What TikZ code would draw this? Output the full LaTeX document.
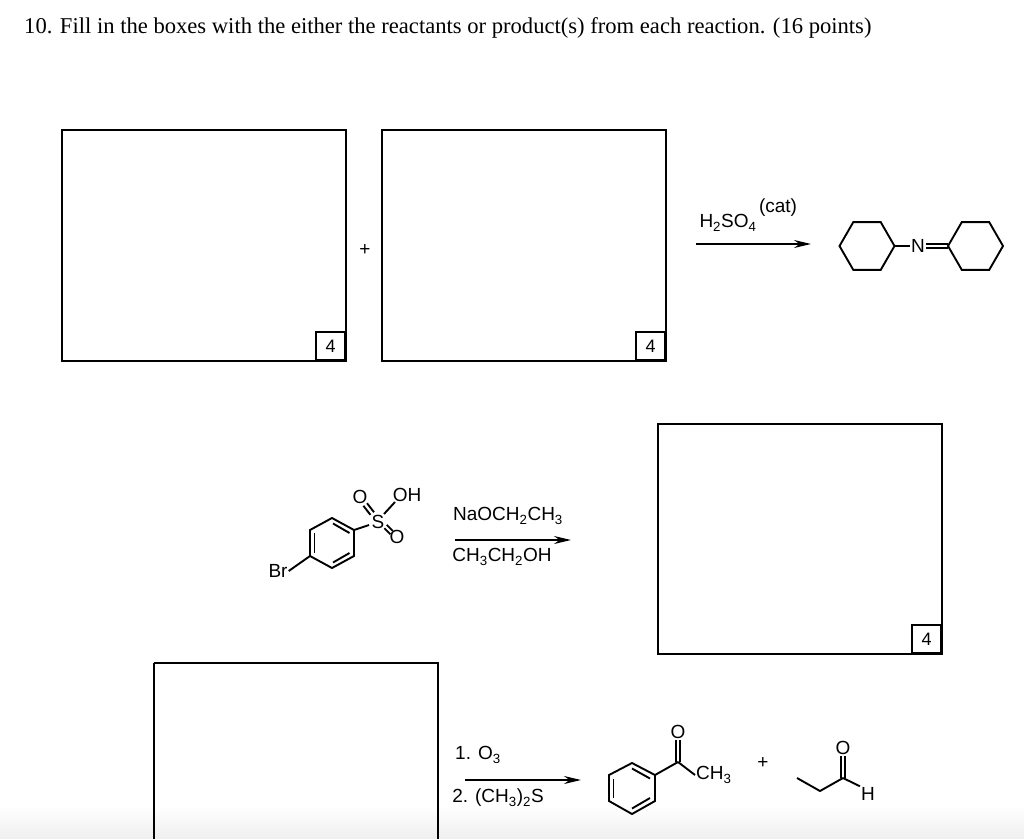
\documentclass[tikz,border=0pt]{standalone}
\usepackage{fontspec}
\setmainfont{Liberation Serif}
\newfontfamily\arial{Liberation Sans}
\usetikzlibrary{arrows.meta}
\newcommand{\lsub}[1]{\textsubscript{#1}}
\begin{document}
\begin{tikzpicture}[x=1pt,y=-1pt,
  answerbox/.style={draw,line width=2pt},
  numbox/.style={draw,line width=1.6pt,minimum width=29pt,minimum height=28pt,inner sep=0pt,font=\arial\fontsize{18}{18}\selectfont},
  lbl/.style={font=\arial\fontsize{19}{19}\selectfont,inner sep=1pt},
  bnd/.style={line width=1.9pt},
  rxn/.style={line width=1.6pt,-{Stealth[length=17pt,width=8pt]}}]
\useasboundingbox (0,0) rectangle (1024,838);
\shade[top color=white,bottom color=black!6] (0,805) rectangle (1024,838);
\node[anchor=west,font=\fontsize{22.6}{23}\selectfont,inner sep=0pt] (title) at (24,28) {10. Fill in the boxes with the either the reactants or product(s) from each reaction. (16 points)};
% boxes
\draw[answerbox] (62,130) rectangle (346,361);
\node[numbox,anchor=south east] (n1) at (346,361) {4};
\draw[answerbox] (382,130) rectangle (666,361);
\node[numbox,anchor=south east] (n2) at (666,361) {4};
\node[lbl] (plus1) at (365,250) {+};
\draw[answerbox] (658,424) rectangle (942,654);
\node[numbox,anchor=south east] (n3) at (942,654) {4};
\draw[answerbox] (154,663) -- (154,840) (154,663) -- (438,663) -- (438,840);
% reaction 1
\node[lbl] (h2so4) at (728,223) {H\lsub{2}SO\lsub{4}};
\node[lbl] (cat) at (778,208) {(cat)};
\coordinate (a1s) at (696,244); \coordinate (a1e) at (811,244);
\draw[rxn] (a1s) -- (a1e);
\draw[bnd] (867,246) ++(0:27.5) -- ++(120:27.5) -- ++(180:27.5) -- ++(240:27.5) -- ++(300:27.5) -- ++(0:27.5) -- cycle;
\node[lbl] (N) at (918,246) {N};
\draw[bnd] (894.5,246) -- (N.west);
\draw[bnd] (975.5,246) ++(180:27.5) coordinate (rc) -- ++(60:27.5) -- ++(0:27.5) -- ++(300:27.5) -- ++(240:27.5) -- ++(180:27.5) -- cycle;
\draw[bnd] ([yshift=-2.4]N.east) -- ([yshift=-2.4]rc);
\draw[bnd] ([yshift=2.4]N.east) -- ([yshift=2.4]rc);
% reaction 2 : 4-bromobenzenesulfonic acid
\coordinate (r1) at (332,518); \coordinate (r2) at (354,530); \coordinate (r3) at (354,556);
\coordinate (r4) at (332,568); \coordinate (r5) at (310,556); \coordinate (r6) at (310,530);
\draw[bnd] (r1)--(r2)--(r3)--(r4)--(r5)--(r6)--cycle;
\draw[bnd] (333,523.5)--(349.5,533); \draw[bnd] (349.5,553)--(333,562.5); \draw[bnd] (314.5,553)--(314.5,533);
\node[lbl] (Br) at (278,571) {Br};
\draw[bnd] (r5) -- (Br.east);
\node[lbl] (S) at (378,522) {S};
\draw[bnd] (r2) -- (369,525);
\node[lbl] (O1) at (360,497) {O};
\node[lbl] (OH) at (407,495) {OH};
\node[lbl] (O2) at (397,537) {O};
\draw[bnd] (370.4,514.8) -- (363.4,505.8);
\draw[bnd] (374.0,512.2) -- (367.0,503.2);
\draw[bnd] (384,514) -- (395,502);
\draw[bnd] (386.7,524.8) -- (392.7,530.8);
\draw[bnd] (384.3,528.2) -- (390.3,534.2);
\node[lbl] (naoet) at (508,516) {NaOCH\lsub{2}CH\lsub{3}};
\node[lbl] (etoh) at (502,557) {CH\lsub{3}CH\lsub{2}OH};
\coordinate (a2s) at (455,540); \coordinate (a2e) at (571,540);
\draw[rxn] (a2s) -- (a2e);
% reaction 3
\node[lbl] (o3) at (478,755) {1. O\lsub{3}};
\node[lbl] (dms) at (498,798) {2. (CH\lsub{3})\lsub{2}S};
\coordinate (a3s) at (465,780); \coordinate (a3e) at (581,780);
\draw[rxn] (a3s) -- (a3e);
\coordinate (p1) at (632,763); \coordinate (p2) at (655,775); \coordinate (p3) at (655,801);
\coordinate (p4) at (632,814); \coordinate (p5) at (609,801); \coordinate (p6) at (609,775);
\draw[bnd] (p1)--(p2)--(p3)--(p4)--(p5)--(p6)--cycle;
\draw[bnd] (632,768.5)--(650,778.5); \draw[bnd] (650,798)--(632,808.5); \draw[bnd] (613.5,797.5)--(613.5,778.5);
\coordinate (cc) at (678,762);
\draw[bnd] (p2) -- (cc);
\node[lbl] (Ok) at (678,732) {O};
\draw[bnd] ([xshift=-2.4]cc) -- ([xshift=-2.4]Ok.south);
\draw[bnd] ([xshift=2.4]cc) -- ([xshift=2.4]Ok.south);
\node[lbl,anchor=west] (ch3) at (695,775) {CH\lsub{3}};
\draw[bnd] (cc) -- (ch3.west);
\node[lbl] (plus2) at (763,763) {+};
\coordinate (e1) at (797,778); \coordinate (e2) at (820,791); \coordinate (e3) at (843,778);
\draw[bnd] (e1)--(e2)--(e3);
\node[lbl] (Oa) at (843,748) {O};
\draw[bnd] ([xshift=-2.4]e3) -- ([xshift=-2.4]Oa.south);
\draw[bnd] ([xshift=2.4]e3) -- ([xshift=2.4]Oa.south);
\node[lbl] (H) at (868,794) {H};
\draw[bnd] (e3) -- (H.north west);
\end{tikzpicture}
\end{document}
